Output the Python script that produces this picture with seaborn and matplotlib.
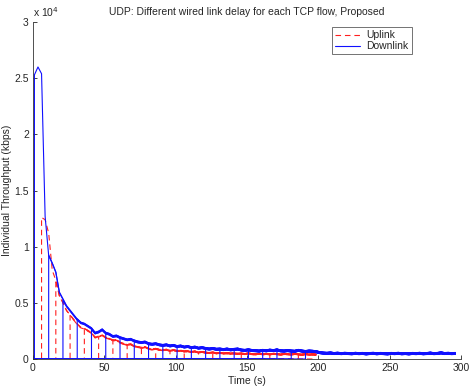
import numpy as np
import pandas as pd
import matplotlib
matplotlib.use('Agg')
import matplotlib.pyplot as plt
from matplotlib.lines import Line2D
from matplotlib.ticker import FuncFormatter
import seaborn as sns

# sample grid (s) and throughput (kbps)
dl_time = np.arange(1, 296.1, 2.5)
dl_kbps = [
    25300, 26000, 25400, 12700, 9200, 8500, 7700, 5900, 5300, 4700,
    4300, 3900, 3500, 3200, 3100, 2900, 2700, 2300, 2400, 2600,
    2300, 2200, 2000, 2050, 1900, 1800, 1700, 1750, 1600, 1500,
    1450, 1500, 1350, 1300, 1350, 1250, 1200, 1250, 1150, 1200,
    1100, 1150, 1050, 1100, 1000, 1050, 950, 1000, 930, 880,
    930, 860, 880, 830, 880, 810, 850, 880, 790, 760,
    810, 750, 730, 700, 760, 720, 780, 740, 800, 720,
    700, 740, 700, 680, 760, 700, 660, 700, 680, 640,
    560, 520, 500, 530, 480, 510, 470, 500, 480, 460,
    500, 470, 490, 450, 480, 500, 460, 490, 470, 450,
    490, 470, 500, 460, 480, 450, 490, 470, 500, 460,
    480, 520, 470, 490, 540, 480, 500, 470, 490,
]
ul_time = np.arange(6, 198.6, 2.5)
ul_kbps = [
    12600, 12400, 11200, 7900, 7000, 5600, 5000, 4300, 3900, 3500,
    3100, 2800, 2700, 2500, 2300, 1900, 2000, 2100, 1900, 1800,
    1650, 1700, 1450, 1350, 1250, 1300, 1150, 1050, 1000, 1050,
    900, 850, 900, 820, 780, 820, 740, 780, 700, 740,
    660, 700, 620, 660, 580, 620, 560, 530, 570, 510,
    540, 490, 530, 470, 500, 460, 480, 440, 490, 430,
    420, 460, 420, 450, 410, 460, 430, 390, 450, 420,
    400, 450, 410, 380, 430, 390, 410, 380,
]
assert len(dl_kbps) == len(dl_time) and len(ul_kbps) == len(ul_time)

# flow start times (s) and per-flow spread around the common curve (kbps)
dl_start = [1, 11, 21, 31, 41, 51, 61, 71, 81, 91,
            101, 111, 121, 131, 141, 151, 161, 171, 181, 191]
ul_start = [6, 16, 26, 36, 46, 56, 66, 76, 86, 96,
            106, 116, 126, 136, 146, 156, 166, 176, 186, 196]
dl_spread = [0, 60, -50, 80, -70, 30, -30, 90, -60, 50,
             -20, 70, -80, 20, 60, -50, 80, -40, 10, -70]
ul_spread = [0, 30, -30, 40, -40, 20, -20, 40, -30, 30,
             -10, 40, -40, 10, 30, -30, 40, -20, 10, -30]


def flows(starts, spread, grid, kbps, name):
    kbps = np.asarray(kbps, dtype=float)
    parts = []
    for i, (t0, off) in enumerate(zip(starts, spread)):
        keep = grid >= t0 - 1e-9
        parts.append(pd.DataFrame({
            'time': np.concatenate([[0, t0], grid[keep]]),
            'kbps': np.concatenate([[0, 0], kbps[keep] + off]),
            'flow': f'{name}{i}',
        }))
    return pd.concat(parts, ignore_index=True)


df_ul = flows(ul_start, ul_spread, ul_time, ul_kbps, 'ul')
df_dl = flows(dl_start, dl_spread, dl_time, dl_kbps, 'dl')

sns.set_style('ticks')
plt.rcParams['font.family'] = ['Liberation Sans', 'DejaVu Sans']

fig = plt.figure(figsize=(4.74, 3.87), dpi=100)
ax = fig.add_axes([0.0696, 0.0724, 0.903, 0.8706])

sns.lineplot(data=df_ul, x='time', y='kbps', units='flow', estimator=None,
             sort=False, color='#ff2020', linewidth=0.8,
             linestyle=(0, (5, 3.5)), ax=ax)
sns.lineplot(data=df_dl, x='time', y='kbps', units='flow', estimator=None,
             sort=False, color='#1010ff', linewidth=0.8, ax=ax)

ax.set_xlim(0, 300)
ax.set_ylim(0, 30000)
ax.set_xticks([0, 50, 100, 150, 200, 250, 300])
ax.set_yticks([0, 5000, 10000, 15000, 20000, 25000, 30000])
ax.yaxis.set_major_formatter(FuncFormatter(lambda v, _: f'{v / 1e4:g}'))
ax.tick_params(direction='in', length=3, width=0.6, labelsize=7.5, pad=3)
sns.despine(ax=ax)
for s in ['left', 'bottom']:
    ax.spines[s].set_linewidth(0.6)
    ax.spines[s].set_color('#333333')

ax.text(0.0, 1.008, r'x 10$^4$', transform=ax.transAxes, fontsize=7.5,
        ha='left', va='bottom')
ax.set_title('UDP: Different wired link delay for each TCP flow, Proposed',
             fontsize=7.5, pad=5)
ax.set_xlabel('Time (s)', fontsize=7.5, labelpad=2)
ax.set_ylabel('Individual Throughput (kbps)', fontsize=7.5, labelpad=2)

handles = [Line2D([], [], color='#ff2020', lw=0.8, linestyle=(0, (5, 3.5))),
           Line2D([], [], color='#1010ff', lw=0.8)]
leg = ax.legend(handles, ['Uplink', 'Downlink'], loc='upper right',
                bbox_to_anchor=(0.885, 0.985), fontsize=7.5, frameon=True,
                fancybox=False, handlelength=2.4, borderpad=0.3,
                labelspacing=0.1, handletextpad=0.6, borderaxespad=0)
leg.get_frame().set_edgecolor('#333333')
leg.get_frame().set_linewidth(0.6)

fig.savefig('out.png', dpi=100)
